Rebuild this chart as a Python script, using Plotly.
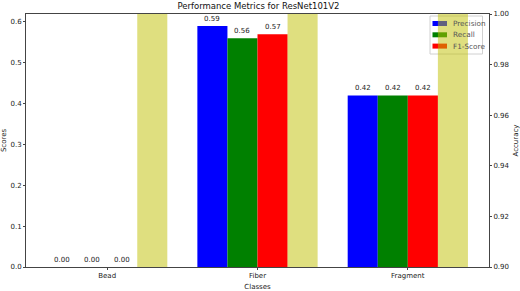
import plotly.graph_objects as go

categories = ["Bead", "Fiber", "Fragment"]
precision = [0.00, 0.59, 0.42]
recall = [0.00, 0.56, 0.42]
f1_score = [0.00, 0.57, 0.42]
accuracy = [1.00, 1.00, 1.00]

series = [("Precision", precision, "#0000ff", -0.3),
          ("Recall", recall, "#008000", -0.1),
          ("F1-Score", f1_score, "#ff0000", 0.1)]

W, H = 520, 291
ML, MR, MT, MB = 26, 31, 14, 24
PW, PH = W - ML - MR, H - MT - MB


def px(x):
    return (x - ML) / PW


def py(y):
    return (H - MB - y) / PH


idx = list(range(len(categories)))
font = "DejaVu Sans"
tc = "#222"
fig = go.Figure()
annotations = []
shapes = []
for name, vals, color, off in series:
    xs = [i + off for i in idx]
    fig.add_trace(go.Bar(x=xs, y=vals, width=0.2, name=name, marker_color=color,
                         marker_line_width=0, yaxis="y", showlegend=False))
    for x, v in zip(xs, vals):
        annotations.append(dict(x=x, y=v, xref="x", yref="y", text=f"{v:.2f}",
                                showarrow=False, yanchor="bottom", yshift=1,
                                font=dict(family=font, size=7, color=tc)))

fig.add_trace(go.Bar(x=[i + 0.3 for i in idx], y=accuracy, width=0.2, name="Accuracy",
                     marker_color="rgba(191,191,0,0.5)", marker_line_width=0,
                     yaxis="y2", showlegend=False, base=0))

# legend (drawn beneath the accuracy bars, like the original)
shapes.append(dict(type="rect", xref="paper", yref="paper", layer="below",
                   x0=px(430), x1=px(482.5), y0=py(54), y1=py(16),
                   fillcolor="rgba(255,255,255,0.8)", line=dict(color="#d0d0d0", width=1)))
for k, (name, vals, color, off) in enumerate(series):
    cy = 23.5 + k * 11.3
    shapes.append(dict(type="rect", xref="paper", yref="paper", layer="below",
                       x0=px(432.5), x1=px(447), y0=py(cy + 2.5), y1=py(cy - 2.5),
                       fillcolor=color, line=dict(width=0)))
    annotations.append(dict(x=px(451), y=py(cy), xref="paper", yref="paper", text=name,
                            showarrow=False, xanchor="left", yanchor="middle",
                            font=dict(family=font, size=7.3, color="#555")))

axfont = dict(family=font, size=7, color=tc)
fig.update_layout(
    width=W, height=H,
    margin=dict(l=ML, r=MR, t=MT, b=MB),
    paper_bgcolor="white", plot_bgcolor="white",
    barmode="overlay",
    showlegend=False,
    title=dict(text="Performance Metrics for ResNet101V2", x=0.497, xanchor="center",
               y=0.978, yanchor="middle", font=dict(family=font, size=8.5, color="#111")),
    xaxis=dict(range=[-0.54, 2.54], tickvals=idx, ticktext=categories, automargin=False,
               showline=True, linecolor="#444", linewidth=1, mirror=True,
               ticks="outside", ticklen=2, tickcolor="#444", showgrid=False, zeroline=False,
               tickfont=axfont,
               title=dict(text="Classes", font=axfont)),
    yaxis=dict(range=[0, 0.6195], tickvals=[0, 0.1, 0.2, 0.3, 0.4, 0.5, 0.6],
               ticktext=["0.0", "0.1", "0.2", "0.3", "0.4", "0.5", "0.6"], automargin=False,
               showline=True, linecolor="#444", linewidth=1,
               ticks="outside", ticklen=2, tickcolor="#444", showgrid=False, zeroline=False,
               tickfont=axfont,
               title=dict(text="Scores", font=axfont)),
    yaxis2=dict(range=[0.9, 1.0], overlaying="y", side="right", automargin=False,
                tickvals=[0.90, 0.92, 0.94, 0.96, 0.98, 1.00],
                ticktext=["0.90", "0.92", "0.94", "0.96", "0.98", "1.00"],
                showline=True, linecolor="#444", linewidth=1,
                ticks="outside", ticklen=2, tickcolor="#444", showgrid=False, zeroline=False,
                tickfont=axfont,
                title=dict(text="Accuracy", font=axfont)),
    annotations=annotations,
    shapes=shapes,
)
fig.write_html("out.html", config={"displayModeBar": False},
               post_script="document.body.style.margin='0';")
